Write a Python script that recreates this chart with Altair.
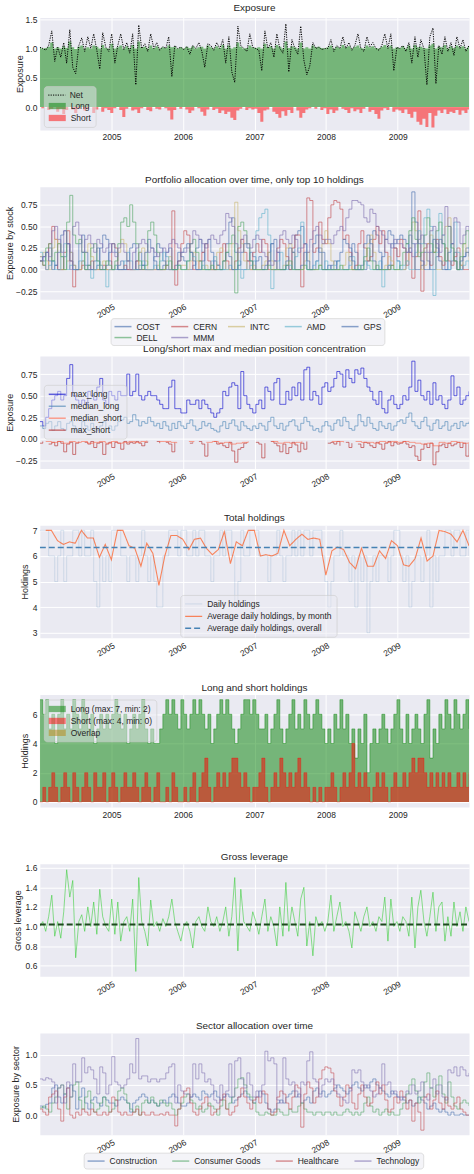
import altair as alt
import pandas as pd

FONT = "Liberation Sans"
TXT = "#262626"
BG = "#EAEAF2"
PLOT_W = 431

# ------------------------------------------------------------------ time grids
N_POINTS = 144
dates = pd.date_range("2004-01-01", "2009-12-31", periods=N_POINTS).normalize()
month_ends = pd.date_range("2004-01-01", periods=72, freq="MS") + pd.offsets.MonthEnd(0)
span_dates = pd.to_datetime(["2004-01-01", "2009-12-31"])
YEAR_TICKS = [2005, 2006, 2007, 2008, 2009]

# ------------------------------------------------------------------ panel 1: exposure
NET_EXPOSURE = [
    1.02, 1.0, 0.97, 1.05, 1.3, 0.78, 1.02, 0.85, 1.1, 0.75, 1.32, 0.68, 0.57, 1.05, 1.18, 0.95, 1.2, 1.0, 1.25, 0.97, 0.65, 1.27, 1.02, 0.95,
    1.25, 0.75, 1.05, 1.25, 0.98, 1.1, 0.92, 1.25, 0.38, 1.4, 1.0, 1.08, 0.95, 1.25, 1.0, 1.1, 0.97, 1.03, 1.0, 1.2, 0.52, 1.05, 1.0, 1.02,
    0.98, 1.03, 0.9, 1.05, 1.0, 1.1, 0.95, 0.68, 1.08, 1.05, 0.97, 1.1, 1.0, 1.15, 0.75, 1.2, 0.6, 0.42, 1.38, 1.05, 1.0, 0.95, 1.25, 1.02,
    1.0, 0.97, 0.62, 1.3, 1.0, 1.1, 0.85, 1.25, 1.0, 0.92, 1.42, 0.6, 1.15, 1.0, 0.9, 1.38, 0.8, 0.55, 0.7, 1.1, 1.0, 1.02, 0.98, 1.0,
    1.0, 1.15, 0.95, 1.05, 1.0, 1.2, 1.0, 1.1, 0.97, 1.05, 1.25, 1.0, 0.95, 1.2, 1.03, 1.1, 1.0, 0.97, 1.05, 1.25, 1.0, 1.25, 0.62, 1.02,
    1.0, 1.05, 0.95, 1.1, 0.75, 1.2, 0.85, 1.15, 1.0, 0.38, 1.2, 1.35, 0.4, 1.05, 0.9, 1.2, 0.95, 1.1, 0.88, 1.2, 1.0, 1.15, 0.95, 1.05,
]
LONG_EXPOSURE = [
    1.02, 1.0, 1.01, 1.03, 1.1, 1.0, 1.02, 1.0, 1.04, 1.01, 1.12, 1.02, 0.99, 1.03, 1.05, 1.0, 1.02, 1.0, 1.05, 1.03, 1.0, 1.06, 1.01, 1.0,
    1.08, 1.0, 1.02, 1.05, 1.0, 1.04, 1.01, 1.06, 1.0, 1.12, 1.02, 1.03, 1.0, 1.05, 1.01, 1.04, 1.0, 1.02, 1.01, 1.05, 1.02, 1.03, 1.0, 1.02,
    1.0, 1.03, 1.01, 1.04, 1.0, 1.02, 1.03, 1.0, 1.05, 1.02, 1.0, 1.04, 1.01, 1.06, 1.0, 1.05, 1.0, 1.02, 1.1, 1.03, 1.0, 1.01, 1.05, 1.02,
    1.01, 1.02, 1.0, 1.08, 1.02, 1.04, 1.0, 1.06, 1.03, 1.0, 1.12, 1.01, 1.04, 1.02, 1.0, 1.1, 1.0, 1.02, 1.0, 1.05, 1.02, 1.03, 1.01, 1.0,
    1.02, 1.05, 1.0, 1.03, 1.01, 1.06, 1.02, 1.04, 1.0, 1.03, 1.05, 1.01, 1.0, 1.05, 1.02, 1.04, 1.01, 1.0, 1.03, 1.06, 1.02, 1.05, 1.0, 1.02,
    1.01, 1.04, 1.0, 1.05, 1.0, 1.06, 1.02, 1.03, 1.01, 1.0, 1.05, 1.08, 1.0, 1.03, 1.02, 1.06, 1.0, 1.04, 1.01, 1.05, 1.02, 1.04, 1.0, 1.03,
]
SHORT_EXPOSURE = [
    0, -0.02, 0, -0.05, -0.03, 0, -0.08, -0.03, -0.12, -0.05, 0, -0.04, -0.1, -0.02, 0, -0.06, -0.03, 0, -0.1, -0.04, 0, -0.08, -0.02, -0.05,
    -0.1, -0.02, 0, -0.05, -0.17, -0.03, 0, -0.06, -0.04, -0.1, -0.02, 0, -0.05, -0.07, 0, -0.03, -0.04, 0, -0.02, -0.06, -0.21, -0.05, 0, -0.03,
    0, -0.04, -0.1, -0.06, 0, -0.02, -0.08, -0.15, -0.04, 0, -0.05, -0.03, -0.1, -0.06, -0.12, -0.08, -0.18, -0.22, -0.06, -0.03, 0, -0.05, -0.02, -0.04,
    -0.03, -0.1, -0.25, -0.06, -0.04, 0, -0.08, -0.12, -0.18, -0.07, -0.15, -0.05, -0.1, 0, -0.06, -0.18, -0.1, -0.04, -0.02, 0, -0.03, 0, -0.05, -0.02,
    -0.12, -0.04, -0.1, -0.06, 0, -0.03, -0.05, -0.1, -0.02, -0.07, -0.04, -0.1, -0.03, 0, -0.08, -0.05, -0.12, -0.2, -0.06, -0.02, -0.05, 0, -0.08, -0.04,
    -0.06, -0.1, -0.04, -0.12, -0.18, -0.08, -0.25, -0.3, -0.2, -0.34, -0.1, -0.35, -0.15, -0.06, -0.1, -0.04, -0.12, -0.08, -0.1, -0.05, -0.13, -0.06, -0.1, -0.04,
]

# ------------------------------------------------------------------ panel 2: top holdings
STOCKS = ["COST", "CERN", "INTC", "AMD", "GPS", "DELL", "MMM"]
STOCK_COLORS = ["#4C72B0", "#C44E52", "#CCB974", "#64B5CD", "#4C72B0", "#55A868", "#8172B2"]
COST = [
    0.15, 0.1, 0.2, 0.25, 0.1, 0.05, 0.0, 0.0, 0.15, 0.3, 0.2, 0.05, 0.0, 0.0, 0.1, 0.05, 0.0, 0.0, 0.0, 0.05, 0.25, 0.4, 0.35, 0.1,
    0.0, 0.0, 0.05, 0.1, 0.0, 0.0, 0.0, 0.0, 0.1, 0.2, 0.05, 0.0, 0.0, 0.0, 0.15, 0.3, 0.25, 0.1, 0.0, 0.0, 0.0, 0.05, 0.2, 0.15,
    0.1, 0.0, 0.0, 0.05, 0.25, 0.35, 0.2, 0.0, 0.0, 0.0, 0.1, 0.05, 0.0, 0.0, 0.3, 0.55, 0.6, 0.2, 0.0, 0.0, 0.0, 0.1, 0.2, 0.15,
    0.0, 0.0, 0.0, 0.05, 0.2, 0.3, 0.1, 0.0, 0.0, 0.0, 0.05, 0.0, 0.2, 0.4, 0.45, 0.5, 0.3, 0.0, 0.0, 0.0, 0.1, 0.25, 0.2, 0.0,
    0.0, 0.05, 0.1, 0.0, 0.0, 0.0, 0.0, 0.15, 0.3, 0.2, 0.0, 0.0, 0.0, 0.1, 0.35, 0.45, 0.4, 0.2, 0.0, 0.0, 0.05, 0.3, 0.25, 0.1,
    0.0, 0.0, 0.2, 0.4, 0.3, 0.0, 0.0, 0.05, 0.2, 0.1, 0.0, 0.0, 0.15, 0.35, 0.3, 0.0, 0.0, 0.1, 0.2, 0.0, 0.0, 0.15, 0.25, 0.2,
]
CERN = [
    0.1, 0.05, 0.0, 0.3, 0.5, 0.35, 0.0, 0.0, 0.2, 0.45, 0.1, -0.2, 0.0, 0.0, 0.05, 0.0, 0.0, 0.1, 0.0, 0.0, 0.0, 0.05, 0.0, 0.0,
    0.3, 0.25, 0.0, 0.0, 0.05, 0.0, 0.0, 0.0, 0.1, 0.0, 0.0, 0.0, 0.0, 0.0, 0.0, 0.0, 0.0, 0.0, 0.05, 0.0, 0.68, -0.18, 0.1, 0.3,
    0.45, 0.4, 0.2, 0.0, 0.0, 0.1, 0.2, 0.3, 0.1, 0.0, 0.0, 0.05, 0.2, 0.3, 0.1, 0.0, 0.0, 0.1, 0.25, 0.35, 0.2, 0.1, 0.0, 0.2,
    0.3, 0.2, 0.35, 0.3, 0.0, 0.0, 0.0, 0.25, 0.35, 0.3, 0.15, 0.0, 0.25, 0.4, 0.4, -0.2, 0.3, 0.83, 0.8, 0.2, 0.25, 0.55, 0.35, 0.3,
    0.6, 0.75, 0.8, 0.78, 0.7, 0.35, 0.4, 0.2, 0.0, 0.05, 0.3, 0.45, 0.25, 0.1, 0.15, 0.35, 0.5, 0.3, 0.45, 0.2, 0.0, 0.05, 0.25, 0.15,
    0.35, 0.25, 0.05, 0.2, -0.1, 0.15, 0.68, -0.25, 0.25, 0.3, 0.05, 0.2, 0.35, 0.15, 0.05, 0.25, 0.1, 0.05, 0.15, 0.25, 0.05, 0.0, 0.0, 0.0,
]
INTC = [
    0.15, 0.2, 0.1, 0.0, 0.25, 0.35, 0.3, 0.0, 0.0, 0.1, 0.2, 0.05, 0.0, 0.0, 0.1, 0.2, 0.3, 0.15, 0.0, 0.0, 0.05, 0.1, 0.0, 0.0,
    0.0, 0.05, 0.2, 0.35, 0.3, 0.1, 0.0, 0.0, 0.0, 0.2, 0.25, 0.1, 0.0, 0.0, 0.0, 0.05, 0.0, 0.0, 0.1, 0.15, 0.0, 0.0, 0.0, 0.05,
    0.05, 0.0, 0.1, 0.2, 0.1, 0.0, 0.0, 0.05, 0.0, 0.0, 0.0, 0.2, 0.25, 0.1, 0.0, 0.0, 0.3, 0.78, 0.45, 0.3, 0.1, 0.0, 0.0, 0.05,
    0.0, 0.0, 0.05, 0.1, 0.2, 0.1, 0.0, 0.0, 0.0, 0.05, 0.25, 0.3, 0.2, 0.0, 0.0, 0.0, 0.1, 0.2, 0.0, 0.0, 0.0, 0.05, 0.3, 0.45,
    0.3, 0.1, 0.0, 0.0, 0.0, 0.05, 0.2, 0.1, 0.0, 0.0, 0.0, 0.0, 0.1, 0.3, 0.4, 0.2, 0.0, 0.0, 0.0, 0.05, 0.15, 0.1, 0.0, 0.0,
    0.0, 0.0, 0.1, 0.25, 0.55, 0.45, 0.2, 0.0, 0.05, 0.3, 0.4, 0.2, 0.0, 0.0, 0.1, 0.5, 0.6, 0.3, 0.1, 0.0, 0.05, 0.3, 0.2, 0.1,
]
AMD = [
    0.2, 0.15, 0.0, 0.05, 0.1, 0.0, 0.0, 0.15, 0.3, 0.0, 0.05, 0.0, 0.0, 0.1, 0.2, 0.0, 0.0, -0.1, 0.0, 0.1, 0.05, 0.0, -0.2, 0.0,
    0.0, 0.05, 0.0, 0.0, 0.1, 0.2, 0.1, 0.0, 0.0, 0.05, 0.1, 0.0, 0.0, 0.0, 0.05, 0.0, 0.1, 0.2, 0.15, 0.0, 0.0, 0.0, 0.05, 0.0,
    0.0, 0.1, 0.2, 0.15, 0.0, 0.0, 0.05, 0.0, 0.0, 0.1, 0.15, 0.05, 0.0, 0.0, 0.0, 0.05, 0.0, 0.0, 0.1, -0.1, 0.0, 0.0, 0.05, 0.1,
    0.45, 0.6, 0.65, 0.7, 0.4, -0.22, 0.0, 0.1, 0.2, 0.0, 0.0, 0.05, 0.0, 0.15, 0.25, 0.55, 0.3, 0.0, 0.0, 0.05, 0.1, 0.0, 0.0, 0.1,
    0.0, 0.0, 0.05, 0.1, 0.0, 0.0, 0.0, 0.05, 0.15, 0.0, 0.0, 0.0, 0.1, 0.05, 0.0, 0.0, 0.0, 0.1, -0.2, 0.0, 0.05, 0.0, 0.0, 0.1,
    0.0, 0.05, 0.1, 0.0, 0.0, 0.2, 0.45, 0.3, 0.6, 0.7, 0.5, -0.3, 0.2, 0.65, 0.4, 0.1, 0.0, 0.3, 0.55, 0.2, 0.0, 0.05, 0.1, 0.0,
]
GPS = [
    0.1, 0.15, 0.2, 0.1, 0.0, 0.05, 0.2, 0.4, 0.45, 0.3, 0.1, 0.0, 0.0, 0.3, 0.4, 0.2, 0.05, 0.0, 0.1, 0.25, 0.0, 0.0, 0.05, 0.2,
    0.3, 0.2, 0.0, 0.0, 0.0, 0.1, 0.25, 0.3, 0.0, 0.0, 0.05, 0.2, 0.35, 0.25, 0.1, 0.0, 0.0, 0.05, 0.2, 0.25, 0.0, 0.0, 0.1, 0.2,
    0.25, 0.3, 0.2, 0.1, 0.0, 0.0, 0.1, 0.3, 0.35, 0.2, 0.0, 0.0, 0.0, 0.1, 0.2, 0.15, 0.0, 0.0, 0.05, 0.2, 0.3, 0.25, 0.1, 0.0,
    0.1, 0.15, 0.0, 0.0, 0.1, 0.3, 0.35, 0.2, 0.0, 0.0, 0.1, 0.25, 0.2, 0.0, 0.0, 0.05, 0.2, 0.1, 0.0, 0.3, 0.4, 0.2, 0.0, 0.0,
    0.05, 0.0, 0.0, 0.1, 0.2, 0.35, 0.3, 0.25, 0.1, 0.0, 0.0, 0.05, 0.3, 0.4, 0.3, 0.1, 0.0, 0.0, 0.15, 0.35, 0.45, 0.4, 0.3, 0.35,
    0.4, 0.35, 0.3, 0.2, 0.9, 0.55, 0.3, 0.1, 0.0, 0.0, 0.2, 0.35, 0.25, 0.1, 0.0, 0.0, 0.2, 0.3, 0.1, 0.0, 0.1, 0.15, 0.2, 0.15,
]
DELL = [
    0.1, 0.05, 0.25, 0.3, 0.1, 0.2, 0.3, 0.15, 0.0, 0.55, 0.86, 0.4, 0.3, 0.35, 0.2, 0.0, 0.05, 0.25, 0.3, 0.1, 0.0, 0.0, 0.1, 0.05,
    0.0, 0.1, 0.3, 0.55, 0.6, 0.5, 0.75, 0.55, 0.3, 0.1, 0.0, 0.05, 0.45, 0.55, 0.4, 0.2, 0.0, 0.0, 0.05, 0.1, 0.0, 0.0, 0.05, 0.0,
    0.0, 0.1, 0.3, 0.35, 0.2, 0.1, 0.0, 0.0, 0.0, 0.05, 0.0, 0.0, 0.0, 0.1, 0.2, 0.3, 0.4, -0.27, 0.5, 0.55, 0.45, 0.3, 0.1, 0.0,
    0.0, 0.0, 0.0, 0.0, 0.05, 0.0, 0.0, 0.0, 0.0, 0.0, 0.05, 0.1, 0.0, 0.0, 0.0, 0.0, 0.05, 0.0, 0.0, 0.0, 0.0, 0.05, 0.0, 0.0,
    0.0, 0.0, 0.0, 0.0, 0.05, 0.0, 0.0, 0.0, 0.0, 0.0, 0.05, 0.0, 0.15, 0.25, 0.1, 0.0, 0.05, 0.0, 0.0, 0.0, 0.0, 0.05, 0.0, 0.0,
    0.05, 0.2, 0.3, 0.45, 0.6, 0.35, 0.15, 0.2, 0.4, 0.6, 0.3, 0.2, 0.45, 0.55, 0.3, 0.1, 0.5, 0.25, 0.1, 0.0, 0.15, 0.3, 0.45, 0.25,
]
MMM = [
    0.1, 0.15, 0.2, 0.15, 0.45, 0.5, 0.35, 0.2, 0.45, 0.3, 0.0, 0.5, 0.55, 0.4, 0.2, 0.35, 0.4, 0.3, 0.2, 0.35, 0.3, 0.2, 0.25, 0.3,
    0.2, 0.15, 0.25, 0.3, 0.2, 0.1, 0.0, 0.2, 0.25, 0.3, 0.35, 0.3, 0.2, 0.25, 0.2, 0.15, 0.2, 0.25, 0.2, 0.3, 0.35, 0.3, 0.25, 0.2,
    0.2, 0.25, 0.3, 0.45, 0.4, 0.35, 0.3, 0.25, 0.35, 0.4, 0.35, 0.3, 0.4, 0.45, 0.65, 0.6, 0.5, 0.3, 0.2, 0.35, 0.4, 0.3, 0.25, 0.35,
    0.4, 0.35, 0.2, 0.15, 0.1, 0.05, 0.1, 0.2, 0.4, 0.45, 0.35, 0.3, 0.4, 0.35, 0.2, 0.25, 0.3, 0.2, 0.35, 0.45, 0.5, 0.4, 0.3, 0.35,
    0.35, 0.3, 0.4, 0.45, 0.5, 0.45, 0.6, 0.7, 0.8, 0.8, 0.78, 0.75, 0.6, 0.55, 0.7, 0.65, 0.5, 0.45, 0.4, 0.35, 0.3, 0.25, 0.35, 0.3,
    0.3, 0.25, 0.2, 0.25, 0.15, 0.3, 0.35, 0.4, 0.3, 0.2, 0.45, 0.5, 0.3, 0.2, 0.4, 0.73, 0.5, 0.3, 0.6, 0.55, 0.3, 0.4, 0.5, 0.45,
]
STOCK_VALUES = [COST, CERN, INTC, AMD, GPS, DELL, MMM]

# ------------------------------------------------------------------ panel 3: concentration
CONC_SERIES = ["max_long", "median_long", "median_short", "max_short"]
CONC_COLORS = ["mediumblue", "steelblue", "tomato", "firebrick"]
MAX_LONG = [
    0.2, 0.15, 0.25, 0.35, 0.45, 0.5, 0.55, 0.45, 0.5, 0.7, 0.86, 0.5, 0.45, 0.4, 0.45, 0.4, 0.55, 0.5, 0.45, 0.6, 0.7, 0.45, 0.4, 0.55,
    0.5, 0.45, 0.55, 0.5, 0.5, 0.75, 0.5, 0.55, 0.75, 0.5, 0.45, 0.5, 0.55, 0.5, 0.5, 0.45, 0.4, 0.35, 0.35, 0.6, 0.68, 0.35, 0.35, 0.3,
    0.3, 0.45, 0.4, 0.4, 0.45, 0.35, 0.45, 0.4, 0.35, 0.3, 0.25, 0.3, 0.35, 0.55, 0.5, 0.6, 0.65, 0.62, 0.35, 0.78, 0.5, 0.4, 0.35, 0.3,
    0.4, 0.45, 0.35, 0.6, 0.55, 0.45, 0.65, 0.7, 0.4, 0.4, 0.55, 0.45, 0.6, 0.5, 0.65, 0.45, 0.8, 0.83, 0.45, 0.55, 0.5, 0.4, 0.6, 0.65,
    0.55, 0.6, 0.7, 0.78, 0.75, 0.6, 0.8, 0.7, 0.65, 0.8, 0.75, 0.82, 0.7, 0.6, 0.55, 0.45, 0.4, 0.55, 0.35, 0.3, 0.45, 0.5, 0.4, 0.35,
    0.4, 0.5, 0.45, 0.6, 0.9, 0.55, 0.68, 0.5, 0.45, 0.55, 0.4, 0.65, 0.45, 0.5, 0.4, 0.35, 0.45, 0.73, 0.5, 0.6, 0.4, 0.45, 0.5, 0.55,
]
MEDIAN_LONG = [
    0.15, 0.12, 0.18, 0.2, 0.1, 0.15, 0.2, 0.12, 0.1, 0.18, 0.2, 0.15, 0.1, 0.12, 0.2, 0.15, 0.1, 0.18, 0.12, 0.1, 0.15, 0.2, 0.12, 0.15,
    0.1, 0.15, 0.2, 0.22, 0.25, 0.18, 0.2, 0.28, 0.22, 0.15, 0.2, 0.18, 0.25, 0.2, 0.15, 0.18, 0.12, 0.2, 0.15, 0.1, 0.18, 0.12, 0.2, 0.15,
    0.12, 0.18, 0.22, 0.15, 0.1, 0.12, 0.2, 0.15, 0.18, 0.12, 0.1, 0.08, 0.15, 0.2, 0.12, 0.18, 0.22, 0.15, 0.1, 0.2, 0.15, 0.12, 0.1, 0.15,
    0.12, 0.18, 0.15, 0.1, 0.2, 0.25, 0.15, 0.12, 0.18, 0.1, 0.15, 0.2, 0.22, 0.15, 0.1, 0.18, 0.25, 0.2, 0.15, 0.1, 0.12, 0.08, 0.15, 0.2,
    0.15, 0.1, 0.18, 0.22, 0.15, 0.25, 0.2, 0.12, 0.1, 0.15, 0.28, 0.2, 0.15, 0.25, 0.18, 0.12, 0.1, 0.2, 0.15, 0.12, 0.18, 0.1, 0.15, 0.2,
    0.22, 0.18, 0.25, 0.3, 0.2, 0.15, 0.12, 0.2, 0.25, 0.15, 0.1, 0.18, 0.22, 0.12, 0.15, 0.2, 0.1, 0.15, 0.18, 0.12, 0.2, 0.15, 0.18, 0.2,
]
MEDIAN_SHORT_MONTHLY = [
    -0.03, -0.04, -0.03, -0.05, -0.03, -0.04, -0.03, -0.05, -0.04, -0.03, -0.05, -0.03,
    -0.05, -0.04, -0.03, -0.04, -0.03, -0.02, None, -0.03, -0.03, -0.04, -0.05, None,
    -0.03, -0.03, None, -0.04, -0.03, -0.05, -0.04, -0.06, -0.05, -0.04, -0.03, None,
    -0.04, None, -0.03, -0.05, -0.04, -0.05, -0.04, -0.03, None, -0.02, None, None,
    -0.03, -0.03, -0.04, None, -0.03, -0.04, -0.04, -0.05, -0.03, -0.04, -0.03, -0.04,
    -0.03, -0.04, -0.05, -0.06, -0.05, -0.08, -0.04, -0.05, -0.03, -0.04, -0.05, -0.04,
]
MAX_SHORT = [
    -0.05, -0.03, None, -0.06, -0.04, -0.08, -0.03, -0.05, -0.15, -0.06, -0.04, -0.18, -0.05, -0.03, None, -0.04, -0.06, -0.03, -0.1, -0.05, -0.04, -0.18, -0.06, -0.04,
    -0.1, -0.04, -0.05, -0.12, -0.03, -0.06, -0.04, -0.05, -0.03, -0.05, -0.08, -0.04, -0.03, None, None, -0.03, -0.05, None, -0.04, -0.06, -0.15, -0.04, None, None,
    -0.03, None, -0.05, -0.04, None, -0.03, -0.06, -0.2, -0.05, None, -0.03, -0.06, -0.05, -0.08, -0.1, -0.04, -0.14, -0.27, -0.12, -0.1, -0.05, -0.04, None, None,
    -0.04, -0.06, -0.22, -0.05, None, -0.03, -0.05, -0.08, -0.15, -0.06, -0.17, -0.1, -0.04, -0.07, -0.15, -0.05, -0.12, -0.03, None, None, -0.03, None, None, None,
    -0.05, -0.04, -0.06, -0.03, -0.08, None, -0.04, -0.1, -0.05, None, -0.06, -0.1, -0.04, -0.05, -0.08, -0.1, -0.04, -0.06, -0.12, -0.05, -0.03, -0.08, -0.04, -0.06,
    -0.05, -0.03, -0.06, -0.1, -0.08, -0.2, -0.25, -0.12, -0.06, -0.1, -0.05, -0.3, -0.15, -0.08, -0.06, -0.1, -0.05, -0.08, -0.06, -0.04, -0.1, -0.05, -0.2, -0.06,
]

# ------------------------------------------------------------------ panel 4: total holdings
HOLD_SERIES = ["Daily holdings", "Average daily holdings, by month", "Average daily holdings, overall"]
DAILY_HOLDINGS = [
    7, 7, 7, 6, 6, 5, 6, 7, 5, 6, 6, 7, 7, 6, 7, 6, 6, 7, 5, 4, 6, 5, 6, 5,
    7, 7, 7, 6, 6, 5, 6, 6, 5, 6, 7, 6, 5, 6, 5, 4, 4, 6, 6, 7, 7, 7, 6, 7,
    7, 6, 6, 7, 6, 7, 7, 6, 6, 5, 6, 6, 7, 6, 7, 7, 6, 4, 5, 7, 6, 6, 7, 7,
    7, 6, 6, 6, 5, 6, 6, 7, 6, 5, 6, 6, 7, 6, 7, 6, 7, 7, 6, 7, 7, 7, 6, 5,
    4, 5, 6, 6, 7, 6, 6, 5, 6, 4, 6, 5, 6, 3, 5, 6, 5, 6, 6, 6, 5, 6, 7, 7,
    6, 5, 6, 4, 5, 6, 6, 5, 6, 7, 4, 6, 5, 6, 6, 7, 7, 6, 7, 7, 6, 6, 7, 6,
]
MONTHLY_AVG_HOLDINGS = [
    7.0, 7.0, 6.6, 6.45, 6.55, 6.5, 7.0, 6.7, 6.7, 5.95, 6.45, 5.85,
    7.0, 7.0, 6.4, 6.3, 5.6, 6.5, 6.1, 4.85, 6.0, 6.8, 6.8, 6.65,
    6.25, 6.65, 6.7, 6.3, 6.05, 6.25, 6.95, 5.7, 6.55, 6.4, 7.0, 7.0,
    6.0, 6.05, 6.0, 6.1, 7.0, 6.4, 6.65, 6.85, 6.65, 6.7, 6.65, 5.25,
    6.2, 6.35, 6.25, 5.75, 5.5, 6.3, 5.6, 5.6, 6.2, 5.9, 6.6, 6.4,
    5.65, 5.6, 5.9, 6.7, 5.8, 6.0, 7.0, 6.95, 6.85, 6.55, 7.0, 6.4,
]
HOLDINGS_MEAN = 6.33

# ------------------------------------------------------------------ panel 5: long / short holdings
LS_LABELS = ["Long (max: 7, min: 2)", "Short (max: 4, min: 0)", "Overlap"]
LONG_COUNT = [
    7, 6, 7, 5, 6, 4, 6, 7, 5, 6, 5, 7, 6, 5, 7, 6, 5, 6, 4, 5, 6, 5, 6, 5,
    6, 7, 6, 5, 6, 4, 5, 6, 5, 6, 7, 5, 4, 5, 4, 4, 5, 6, 7, 6, 7, 6, 5, 7,
    6, 5, 6, 7, 6, 7, 6, 5, 6, 4, 5, 6, 7, 6, 7, 6, 5, 4, 5, 6, 7, 7, 6, 7,
    6, 5, 5, 6, 4, 5, 6, 7, 5, 4, 5, 6, 7, 5, 6, 5, 7, 6, 5, 6, 7, 6, 5, 4,
    5, 4, 6, 5, 7, 5, 6, 4, 5, 3, 5, 4, 6, 2, 4, 5, 4, 5, 6, 5, 4, 5, 6, 7,
    5, 4, 6, 4, 5, 6, 5, 4, 6, 7, 3, 5, 4, 6, 5, 7, 6, 5, 7, 6, 5, 6, 7, 5,
]
SHORT_COUNT = [
    0, 1, 0, 1, 2, 1, 0, 1, 2, 1, 0, 2, 1, 0, 1, 2, 1, 0, 2, 1, 1, 2, 0, 1,
    2, 1, 0, 1, 2, 1, 1, 2, 1, 0, 1, 2, 1, 0, 1, 2, 0, 0, 1, 0, 2, 1, 0, 0,
    1, 0, 1, 2, 0, 1, 2, 3, 1, 0, 1, 2, 1, 2, 1, 2, 3, 3, 2, 1, 2, 1, 0, 1,
    1, 2, 3, 1, 0, 1, 2, 1, 3, 2, 1, 2, 1, 2, 3, 1, 2, 1, 0, 1, 0, 1, 0, 1,
    1, 2, 1, 0, 1, 2, 1, 2, 4, 1, 2, 1, 2, 1, 0, 1, 2, 1, 2, 1, 0, 1, 2, 1,
    1, 2, 1, 2, 3, 2, 3, 3, 2, 1, 2, 1, 2, 1, 2, 1, 2, 1, 1, 2, 1, 2, 1, 2,
]

# ------------------------------------------------------------------ panel 6: gross leverage
GROSS_LEVERAGE = [
    1.0, 1.05, 0.95, 1.1, 1.32, 0.9, 1.05, 0.88, 1.15, 1.58, 1.3, 1.47, 0.68, 1.05, 1.12, 0.95, 1.2, 1.0, 1.25, 0.92, 1.38, 1.1, 1.0, 0.95,
    1.28, 0.92, 1.25, 0.85, 1.05, 1.1, 0.95, 1.28, 0.54, 1.5, 1.05, 0.95, 0.8, 1.27, 1.0, 1.05, 0.95, 1.08, 1.0, 1.1, 1.28, 1.05, 0.95, 0.85,
    1.0, 1.05, 0.95, 0.78, 1.05, 1.1, 1.0, 0.95, 1.2, 1.05, 1.0, 1.1, 0.95, 1.05, 1.2, 0.9, 1.1, 1.5, 0.75, 1.38, 1.05, 1.0, 0.95, 1.15,
    1.05, 0.92, 1.1, 1.28, 0.95, 1.1, 1.0, 0.8, 1.2, 0.9, 1.45, 0.95, 1.2, 1.05, 0.9, 1.28, 1.4, 0.8, 1.05, 0.7, 1.1, 1.0, 1.05, 0.95,
    1.05, 1.32, 0.95, 1.1, 1.25, 1.0, 1.05, 0.95, 0.78, 1.15, 1.05, 0.95, 1.1, 1.2, 1.0, 1.05, 0.95, 1.1, 1.05, 1.3, 0.85, 1.28, 1.0, 1.05,
    0.95, 1.1, 1.05, 0.9, 1.3, 0.78, 1.2, 1.37, 1.05, 0.9, 1.1, 1.35, 0.95, 1.2, 1.25, 0.85, 1.1, 0.9, 1.25, 1.0, 1.15, 0.95, 1.2, 1.05,
]
GROSS_MEAN = 1.02

# ------------------------------------------------------------------ panel 7: sectors
SECTORS = ["Construction", "Consumer Goods", "Healthcare", "Technology"]
SECTOR_COLORS = ["#4C72B0", "#55A868", "#C44E52", "#8172B2"]
CONSTRUCTION = [
    0.15, 0.12, 0.18, 0.2, 0.45, 0.5, 0.3, 0.2, 0.35, 0.45, 0.5, 0.4, 0.1, 0.3, 0.45, 0.2, 0.1, 0.25, 0.3, 0.2, 0.15, 0.3, 0.25, 0.2,
    0.2, 0.15, 0.25, 0.3, 0.25, 0.2, 0.05, 0.2, 0.25, 0.3, 0.35, 0.3, 0.2, 0.25, 0.2, 0.15, 0.2, 0.25, 0.2, 0.3, 0.35, 0.3, 0.2, 0.15,
    0.15, 0.2, 0.3, 0.35, 0.3, 0.25, 0.4, 0.35, 0.3, 0.35, 0.4, 0.3, 0.25, 0.3, 0.35, 0.3, 0.2, 0.25, 0.3, 0.35, 0.4, 0.3, 0.25, 0.2,
    0.3, 0.4, 0.35, 0.2, 0.1, 0.05, 0.1, 0.2, 0.25, 0.2, 0.3, 0.35, 0.4, 0.3, 0.35, 0.2, 0.25, 0.3, 0.2, 0.4, 0.45, 0.35, 0.4, 0.3,
    0.35, 0.4, 0.45, 0.5, 0.45, 0.4, 0.35, 0.45, 0.5, 0.55, 0.45, 0.4, 0.5, 0.45, 0.55, 0.6, 0.5, 0.45, 0.4, 0.35, 0.3, 0.4, 0.35, 0.3,
    0.3, 0.25, 0.2, 0.25, 0.15, 0.2, 0.3, 0.25, 0.2, 0.1, 0.15, 0.2, 0.1, 0.05, 0.1, 0.05, 0.0, 0.05, 0.0, 0.0, 0.02, 0.0, 0.0, 0.0,
]
CONSUMER_GOODS = [
    0.12, 0.15, 0.1, 0.05, 0.2, 0.3, 0.45, 0.5, 0.35, 0.1, 0.3, 0.5, 0.55, 0.25, 0.1, 0.3, 0.4, 0.2, 0.05, 0.1, 0.2, 0.3, 0.15, 0.05,
    0.1, 0.25, 0.4, 0.45, 0.35, 0.2, 0.1, 0.05, 0.15, 0.0, 0.2, 0.25, 0.2, 0.3, 0.2, 0.15, 0.25, 0.2, 0.15, 0.2, 0.1, 0.0, 0.1, 0.2,
    0.3, 0.35, 0.25, 0.2, 0.1, 0.15, 0.05, 0.1, 0.2, 0.15, 0.1, 0.0, 0.15, 0.25, 0.1, 0.2, 0.3, 0.45, 0.6, 0.62, 0.5, 0.35, 0.3, 0.2,
    0.05, 0.0, 0.0, 0.05, 0.02, 0.0, 0.0, 0.1, 0.05, 0.0, 0.0, 0.1, 0.05, 0.05, 0.15, 0.2, 0.1, 0.05, 0.05, 0.0, 0.05, 0.05, 0.0, 0.05,
    0.05, 0.0, 0.05, 0.0, 0.0, 0.05, 0.1, 0.05, 0.0, 0.05, 0.0, 0.05, 0.2, 0.3, 0.15, 0.05, 0.1, 0.0, 0.05, 0.1, 0.0, 0.05, 0.0, 0.0,
    0.1, 0.2, 0.35, 0.5, 0.6, 0.4, 0.2, 0.3, 0.55, 0.7, 0.45, 0.3, 0.5, 0.65, 0.35, 0.2, 0.55, 0.3, 0.15, 0.1, 0.2, 0.25, 0.2, 0.15,
]
HEALTHCARE = [
    0.1, 0.05, 0.0, 0.3, 0.35, 0.4, 0.1, -0.1, 0.3, 0.45, 0.0, -0.05, 0.05, 0.0, 0.1, 0.05, 0.0, 0.1, 0.05, 0.0, 0.0, 0.05, 0.0, 0.05,
    0.3, 0.25, 0.05, 0.0, 0.05, 0.0, 0.0, 0.05, 0.1, 0.0, 0.05, 0.0, 0.0, 0.05, 0.0, 0.0, 0.02, 0.0, 0.05, 0.0, 0.0, -0.18, 0.1, 0.3,
    0.4, 0.45, 0.2, 0.05, 0.0, 0.1, 0.2, 0.3, 0.15, 0.0, 0.05, 0.1, 0.25, 0.35, 0.1, 0.0, 0.05, 0.15, 0.3, 0.45, 0.3, 0.2, 0.1, 0.25,
    0.3, 0.2, 0.4, 0.35, 0.1, 0.0, 0.05, 0.3, 0.4, 0.35, 0.2, 0.1, 0.3, 0.5, 0.45, -0.2, 0.35, 0.55, 0.45, 0.2, 0.3, 0.6, 0.75, 0.8,
    0.78, 0.7, 0.4, 0.3, 0.15, 0.3, 0.5, 0.45, 0.2, 0.1, 0.35, 0.5, 0.3, 0.15, 0.2, 0.4, 0.55, 0.35, 0.5, 0.25, 0.05, 0.1, 0.3, 0.2,
    0.4, 0.3, 0.1, 0.25, -0.1, 0.2, 0.05, -0.25, 0.3, 0.35, 0.1, 0.25, 0.4, 0.2, 0.1, 0.3, 0.15, 0.1, 0.2, 0.3, 0.1, 0.05, 0.0, 0.0,
]
TECHNOLOGY = [
    0.6, 0.58, 0.62, 0.6, 0.55, 0.2, 0.45, 0.5, 0.2, 0.55, 0.3, 0.85, 0.55, 0.55, 0.95, 0.7, 0.8, 0.75, 0.6, 0.35, 0.8, 0.7, 0.35, 0.5,
    0.97, 0.55, 0.5, 0.45, 0.5, 0.6, 0.85, 0.7, 1.27, 0.6, 0.65, 0.65, 0.55, 0.6, 0.6, 0.55, 0.6, 0.6, 0.7, 0.8, 0.85, 0.2, 0.5, 0.4,
    0.35, 0.35, 0.3, 0.85, 0.6, 0.85, 0.7, 0.55, 0.6, 0.5, 0.25, 0.2, 0.5, 0.3, 0.4, 0.85, 0.3, 0.9, 0.95, 0.6, 0.45, 0.7, 0.5, 0.3,
    0.4, 0.3, 0.5, 1.06, 0.9, 0.95, 0.85, 0.25, 0.2, 0.95, 0.6, 0.5, 0.55, 0.4, 0.3, 0.55, 0.5, 0.9, 1.05, 0.6, 0.55, 0.3, 0.5, 0.6,
    0.55, 0.6, 0.5, 0.35, 0.3, 0.25, 0.2, 0.4, 0.75, 0.7, 0.75, 0.55, 0.45, 0.5, 0.4, 0.3, 0.35, 0.45, 0.85, 0.5, 0.55, 0.35, 0.4, 0.3,
    0.25, 0.3, 0.4, 0.35, 0.5, 0.35, 0.4, 0.55, 0.3, 0.25, 0.45, 0.6, 0.35, 0.5, 0.3, 0.25, 0.75, 0.7, 0.8, 0.65, 0.8, 0.75, 0.65, 0.7,
]
SECTOR_VALUES = [CONSTRUCTION, CONSUMER_GOODS, HEALTHCARE, TECHNOLOGY]


# ------------------------------------------------------------------ helpers
def long_df(index, names, columns):
    frames = [pd.DataFrame({"date": index, "value": vals, "series": name}) for name, vals in zip(names, columns)]
    return pd.concat(frames, ignore_index=True)


X_DOMAIN = [alt.DateTime(year=2004, month=1, date=1), alt.DateTime(year=2009, month=12, date=31)]


def x_enc(rotated):
    return alt.X(
        "date:T",
        title=None,
        scale=alt.Scale(domain=X_DOMAIN, nice=False),
        axis=alt.Axis(
            values=[alt.DateTime(year=y, month=1, date=1) for y in YEAR_TICKS],
            format="%Y",
            labelAngle=-30 if rotated else 0,
            labelAlign="right" if rotated else "center",
            labelBaseline="top",
            labelPadding=3,
        ),
    )


def y_enc(field, lo, hi, ticks, fmt, title, title_x):
    return alt.Y(
        field,
        title=title,
        stack=False,
        scale=alt.Scale(domain=[lo, hi], nice=False, zero=False),
        axis=alt.Axis(values=ticks, format=fmt, titleX=title_x, titleBaseline="middle", labelPadding=3),
    )


LINE_SYM = "M-1.9,0H1.9"
RECT_SYM = "M-1.9,-0.7H1.9V0.7H-1.9Z"


def legend(**kw):
    base = dict(
        orient="none",
        title=None,
        fillColor="rgba(234,234,242,0.5)",
        strokeColor="rgba(204,204,204,0.6)",
        cornerRadius=3,
        padding=4,
        rowPadding=2,
        symbolSize=81,
        symbolOffset=4,
        labelOffset=8,
        symbolType=LINE_SYM,
    )
    base.update(kw)
    return alt.Legend(**base)


# ------------------------------------------------------------------ panel 1
p1_areas_df = long_df(dates, ["Long", "Short"], [LONG_EXPOSURE, SHORT_EXPOSURE])
p1_net_df = pd.DataFrame({"date": dates, "value": NET_EXPOSURE, "line": "Net"})
y1 = y_enc("value:Q", -0.39, 1.53, [0, 0.5, 1.0, 1.5], ".1f", "Exposure", -20.7)
p1_area = alt.Chart(p1_areas_df).mark_area(opacity=0.5, interpolate="step", clip=True).encode(
    x=x_enc(False),
    y=y1,
    y2=alt.datum(0),
    color=alt.Color(
        "series:N",
        scale=alt.Scale(domain=["Long", "Short"], range=["green", "red"]),
        legend=legend(legendX=4, legendY=69, title=" ", titleFontSize=8.5, titlePadding=2, symbolType=RECT_SYM),
    ),
)
p1_line = alt.Chart(p1_net_df).mark_line(color="black", strokeWidth=1, clip=True).encode(
    x=x_enc(False),
    y=y1,
    strokeDash=alt.StrokeDash(
        "line:N",
        scale=alt.Scale(domain=["Net"], range=[[1.2, 1.2]]),
        legend=legend(legendX=8, legendY=73, padding=0, fillColor="transparent", strokeColor="transparent",
                      symbolStrokeColor="black", symbolStrokeWidth=1),
    ),
)
panel1 = alt.layer(p1_area, p1_line).properties(width=PLOT_W, height=113, title="Exposure")

# ------------------------------------------------------------------ panel 2
p2_df = long_df(dates, STOCKS, STOCK_VALUES)
panel2 = alt.Chart(p2_df).mark_line(interpolate="step-after", strokeWidth=1, opacity=0.65, clip=True).encode(
    x=x_enc(True),
    y=y_enc("value:Q", -0.343, 0.96, [-0.25, 0, 0.25, 0.5, 0.75], ".2f", "Exposure by stock", -30.7),
    color=alt.Color(
        "series:N",
        scale=alt.Scale(domain=STOCKS, range=STOCK_COLORS),
        legend=legend(legendX=71, legendY=132, columns=5, columnPadding=6, gridAlign="all",
                      direction="horizontal", padding=3, rowPadding=1),
    ),
).properties(width=PLOT_W, height=113, title="Portfolio allocation over time, only top 10 holdings")

# ------------------------------------------------------------------ panel 3
p3_df = pd.concat(
    [
        long_df(dates, ["max_long", "median_long", "max_short"], [MAX_LONG, MEDIAN_LONG, MAX_SHORT]),
        pd.DataFrame({"date": month_ends, "value": MEDIAN_SHORT_MONTHLY, "series": "median_short"}),
    ],
    ignore_index=True,
)
panel3 = alt.Chart(p3_df).mark_line(interpolate="step-after", strokeWidth=1, opacity=0.6, clip=True).encode(
    x=x_enc(True),
    y=y_enc("value:Q", -0.343, 0.96, [-0.25, 0, 0.25, 0.5, 0.75], ".2f", "Exposure", -30.7),
    color=alt.Color(
        "series:N",
        scale=alt.Scale(domain=CONC_SERIES, range=CONC_COLORS),
        legend=legend(legendX=4, legendY=29),
    ),
).properties(width=PLOT_W, height=113, title="Long/short max and median position concentration")

# ------------------------------------------------------------------ panel 4
p4_daily = pd.DataFrame({"date": dates, "value": DAILY_HOLDINGS, "series": HOLD_SERIES[0]})
p4_month = pd.DataFrame({"date": month_ends, "value": MONTHLY_AVG_HOLDINGS, "series": HOLD_SERIES[1]})
p4_mean = pd.DataFrame({"date": span_dates, "value": [HOLDINGS_MEAN, HOLDINGS_MEAN], "series": HOLD_SERIES[2]})
y4 = y_enc("value:Q", 2.8, 7.2, [3, 4, 5, 6, 7], "d", "Holdings", -15)


def p4_enc():
    return dict(
        x=x_enc(True),
        y=y4,
        color=alt.Color(
            "series:N",
            scale=alt.Scale(domain=HOLD_SERIES, range=["steelblue", "orangered", "steelblue"]),
            legend=legend(legendX=141, legendY=70),
        ),
        strokeDash=alt.StrokeDash("series:N", scale=alt.Scale(domain=HOLD_SERIES, range=[[1, 0], [1, 0], [6, 3]])),
        strokeWidth=alt.StrokeWidth("series:N", scale=alt.Scale(domain=HOLD_SERIES, range=[0.7, 1.5, 2.0])),
        opacity=alt.Opacity("series:N", scale=alt.Scale(domain=HOLD_SERIES, range=[0.25, 1.0, 1.0])),
    )


panel4 = alt.layer(
    alt.Chart(p4_daily).mark_line(interpolate="step-after", clip=True).encode(**p4_enc()),
    alt.Chart(p4_month).mark_line(clip=True).encode(**p4_enc()),
    alt.Chart(p4_mean).mark_line(clip=True).encode(**p4_enc()),
).properties(width=PLOT_W, height=113, title="Total holdings")

# ------------------------------------------------------------------ panel 5
p5_area_df = long_df(dates, LS_LABELS[:2], [LONG_COUNT, SHORT_COUNT])
p5_wide = pd.DataFrame({"date": dates, "long": LONG_COUNT, "short": SHORT_COUNT})
y5 = y_enc("value:Q", -0.35, 7.35, [0, 2, 4, 6], "d", "Holdings", -15)
p5_area = alt.Chart(p5_area_df).mark_area(interpolate="step-after", opacity=0.5, clip=True).encode(
    x=x_enc(False),
    y=y5,
    y2=alt.datum(0),
    color=alt.Color(
        "series:N",
        scale=alt.Scale(domain=LS_LABELS, range=["green", "red", "darkgoldenrod"]),
        legend=legend(legendX=4, legendY=5, symbolType=RECT_SYM),
    ),
)
p5_long_edge = alt.Chart(p5_wide).mark_line(interpolate="step-after", color="green", strokeWidth=0.8, opacity=0.55, clip=True).encode(
    x=x_enc(False), y=y_enc("long:Q", -0.35, 7.35, [0, 2, 4, 6], "d", "Holdings", -15)
)
p5_short_edge = alt.Chart(p5_wide).mark_line(interpolate="step-after", color="red", strokeWidth=0.8, opacity=0.45, clip=True).encode(
    x=x_enc(False), y=y_enc("short:Q", -0.35, 7.35, [0, 2, 4, 6], "d", "Holdings", -15)
)
panel5 = alt.layer(p5_area, p5_long_edge, p5_short_edge).properties(width=PLOT_W, height=113, title="Long and short holdings")

# ------------------------------------------------------------------ panel 6
p6_df = pd.DataFrame({"date": dates, "value": GROSS_LEVERAGE})
p6_mean = pd.DataFrame({"date": span_dates, "value": [GROSS_MEAN, GROSS_MEAN]})
y6 = y_enc("value:Q", 0.49, 1.64, [0.6, 0.8, 1.0, 1.2, 1.4, 1.6], ".1f", "Gross leverage", -22.3)
panel6 = alt.layer(
    alt.Chart(p6_df).mark_line(color="limegreen", strokeWidth=0.7, opacity=0.8, clip=True).encode(x=x_enc(True), y=y6),
    alt.Chart(p6_mean).mark_line(color="#1d4a1d", strokeWidth=2, strokeDash=[6, 3], clip=True).encode(x=x_enc(True), y=y6),
).properties(width=PLOT_W, height=113, title="Gross leverage")

# ------------------------------------------------------------------ panel 7
p7_df = long_df(dates, SECTORS, SECTOR_VALUES)
panel7 = alt.Chart(p7_df).mark_line(interpolate="step-after", strokeWidth=1, opacity=0.6, clip=True).encode(
    x=x_enc(True),
    y=y_enc("value:Q", -0.325, 1.36, [0.0, 0.5, 1.0], ".1f", "Exposure by sector", -24),
    color=alt.Color(
        "series:N",
        scale=alt.Scale(domain=SECTORS, range=SECTOR_COLORS),
        legend=legend(legendX=44, legendY=120, columns=4, columnPadding=11, gridAlign="each",
                      direction="horizontal", padding=3),
    ),
).properties(width=PLOT_W, height=102, title="Sector allocation over time")

# ------------------------------------------------------------------ assemble
chart = (
    alt.vconcat(
        panel1, panel2, panel3, panel4, panel5, panel6, panel7,
        spacing=57,
        bounds="flush",
        padding={"left": 4, "top": 0, "right": 4, "bottom": 4},
    )
    .resolve_scale(y="independent", color="independent", strokeDash="independent",
                   strokeWidth="independent", opacity="independent")
    .resolve_legend(color="independent", strokeDash="independent",
                    strokeWidth="independent", opacity="independent")
    .configure(font=FONT, background="white")
    .configure_view(fill=BG, stroke="transparent")
    .configure_axis(
        grid=True,
        gridColor="white",
        gridWidth=1,
        domain=False,
        ticks=False,
        tickSize=0,
        labelFont=FONT,
        labelFontSize=8.5,
        labelColor=TXT,
        titleFont=FONT,
        titleFontSize=9,
        titleFontWeight="normal",
        titleColor=TXT,
    )
    .configure_title(font=FONT, fontSize=10, fontWeight="normal", color=TXT, offset=2, anchor="middle")
    .configure_legend(labelFont=FONT, labelFontSize=8.5, labelColor=TXT, titleFont=FONT, titleColor=TXT)
)

chart.save("out.html", embed_options={"renderer": "svg", "actions": False})
